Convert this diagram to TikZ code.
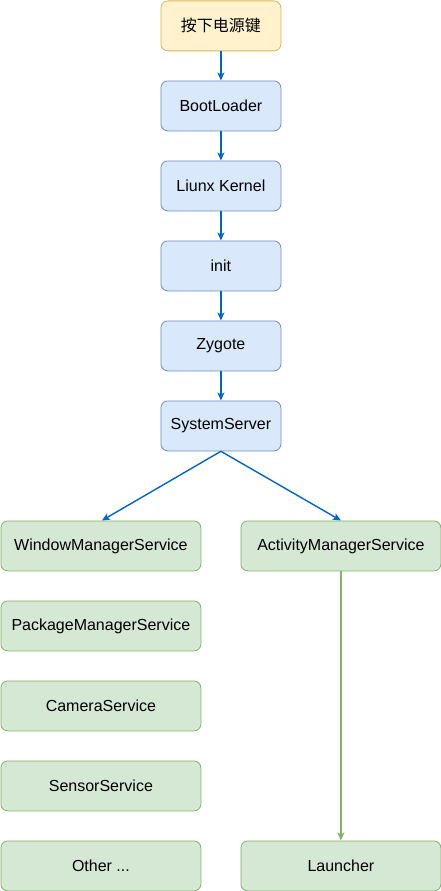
\documentclass[tikz,border=0pt]{standalone}
\usepackage{fontspec}
\setmainfont{Liberation Sans}
\newfontfamily\cjk{Noto Sans CJK SC}
\usetikzlibrary{arrows.meta}
\definecolor{yfill}{HTML}{FFF2CC}
\definecolor{ydraw}{HTML}{D6B656}
\definecolor{bfill}{HTML}{DAE8FC}
\definecolor{bdraw}{HTML}{6C8EBF}
\definecolor{gfill}{HTML}{D5E8D4}
\definecolor{gdraw}{HTML}{82B366}
\definecolor{arrblue}{HTML}{0066CC}
\begin{document}
\begin{tikzpicture}[x=1pt,y=-1pt,
  box/.style={draw, rounded corners=7pt, line width=0.8pt, minimum height=50pt, inner sep=0pt, font=\fontsize{16}{18}\selectfont, anchor=north west},
  ybox/.style={box, fill=yfill, draw=ydraw, minimum width=120pt},
  bbox/.style={box, fill=bfill, draw=bdraw, minimum width=120pt},
  gbox/.style={box, fill=gfill, draw=gdraw, minimum width=200pt},
  barr/.style={draw=arrblue, line width=1.4pt, -{Stealth[length=8pt,width=7pt,inset=2pt]}},
  garr/.style={draw=gdraw, line width=1.4pt, -{Stealth[length=8pt,width=7pt,inset=2pt]}}]
\useasboundingbox (0,0) rectangle (441,891);
\node[ybox] (n0) at (160.5,0.5) {\cjk 按下电源键};
\node[bbox] (n1) at (160.5,80.5) {BootLoader};
\node[bbox] (n2) at (160.5,160.5) {Liunx Kernel};
\node[bbox] (n3) at (160.5,240.5) {init};
\node[bbox] (n4) at (160.5,320.5) {Zygote};
\node[bbox] (n5) at (160.5,400.5) {SystemServer};
\node[gbox] (w) at (0.5,520.5) {WindowManagerService};
\node[gbox] (p) at (0.5,600.5) {PackageManagerService};
\node[gbox] (c) at (0.5,680.5) {CameraService};
\node[gbox] (s) at (0.5,760.5) {SensorService};
\node[gbox] (o) at (0.5,840.5) {Other ...};
\node[gbox] (a) at (240.5,520.5) {ActivityManagerService};
\node[gbox] (l) at (240.5,840.5) {Launcher};
\draw[barr] (n0.south) -- (n1.north);
\draw[barr] (n1.south) -- (n2.north);
\draw[barr] (n2.south) -- (n3.north);
\draw[barr] (n3.south) -- (n4.north);
\draw[barr] (n4.south) -- (n5.north);
\coordinate (wt) at ([xshift=1pt]w.north);
\draw[barr] (n5.south) -- (wt);
\draw[barr] (n5.south) -- (a.north);
\draw[garr] (a.south) -- (l.north);
\end{tikzpicture}
\end{document}
